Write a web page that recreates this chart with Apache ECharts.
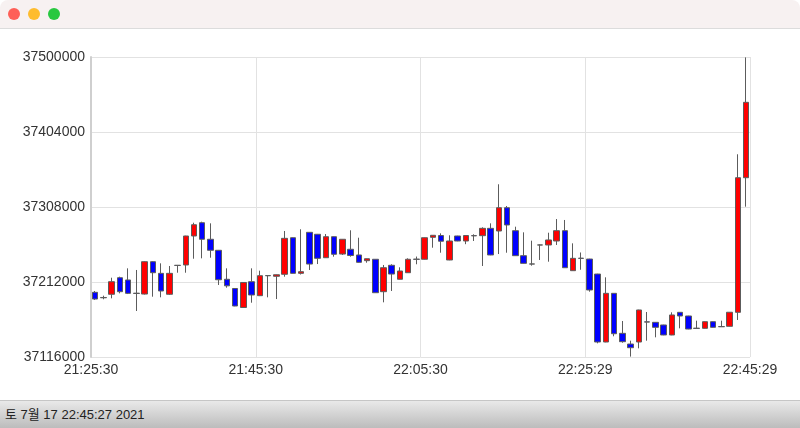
<!DOCTYPE html>
<html>
<head>
<meta charset="utf-8">
<script src="https://cdn.jsdelivr.net/npm/echarts@6/dist/echarts.min.js"></script>
<style>
  html, body { margin: 0; padding: 0; background: #fff; }
  #win { position: relative; width: 800px; height: 428px; overflow: hidden; background: #fff; }
  #titlebar { position: absolute; left: 0; top: 0; width: 800px; height: 28px; background: #f7f1f1;
    border-bottom: 1px solid #dcdcdc; border-radius: 8px 8px 0 0; z-index: 2; }
  .dot { position: absolute; top: 8px; width: 12px; height: 12px; border-radius: 50%; }
  #statusbar { position: absolute; left: 0; top: 400px; width: 800px; height: 28px; z-index: 2;
    background: linear-gradient(#e9e9e9, #bcbcbc); border-top: 1px solid #c6c6c6; box-sizing: border-box;
    font: 13px "Liberation Sans", "Noto Sans CJK KR", sans-serif; color: #222; line-height: 27px; padding-left: 5px; }
  #chart { position: absolute; left: 0; top: 0; width: 800px; height: 428px; z-index: 1; }
</style>
</head>
<body>
<div id="win">
  <div id="titlebar">
    <div class="dot" style="left:8px;background:#fe5f57;"></div>
    <div class="dot" style="left:28px;background:#febc2e;"></div>
    <div class="dot" style="left:48px;background:#28c840;"></div>
  </div>
  <div id="chart"></div>
  <div id="statusbar">토 7월 17 22:45:27 2021</div>
</div>
<script>
// x 축 범위 (시각)
var startTime = '21:25:30';
var endTime = '22:45:29';
// y 축 눈금
var yTicks = [37116000, 37212000, 37308000, 37404000, 37500000];

// 1분봉 시각
var minutes = [
  '21:26','21:27','21:28','21:29','21:30','21:31','21:32','21:33','21:34','21:35',
  '21:36','21:37','21:38','21:39','21:40','21:41','21:42','21:43','21:44','21:45',
  '21:46','21:47','21:48','21:49','21:50','21:51','21:52','21:53','21:54','21:55',
  '21:56','21:57','21:58','21:59','22:00','22:01','22:02','22:03','22:04','22:05',
  '22:06','22:07','22:08','22:09','22:10','22:11','22:12','22:13','22:14','22:15',
  '22:16','22:17','22:18','22:19','22:20','22:21','22:22','22:23','22:24','22:25',
  '22:26','22:27','22:28','22:29','22:30','22:31','22:32','22:33','22:34','22:35',
  '22:36','22:37','22:38','22:39','22:40','22:41','22:42','22:43','22:44','22:45'
];
// 시가
var opens = [
  37198800,37192200,37196300,37217500,37214600,37197700,37196600,37238000,37223100,37196300,
  37233400,37233800,37270900,37287900,37266700,37252600,37215500,37203700,37179400,37212400,
  37194500,37220300,37219300,37221900,37268700,37223100,37275600,37273100,37243100,37270000,
  37247800,37253900,37246600,37239300,37241100,37199600,37233400,37215500,37223900,37241300,
  37241100,37269200,37271500,37240200,37270900,37264500,37271400,37271300,37280700,37277300,
  37307100,37277700,37245700,37235200,37259500,37259400,37264500,37277700,37226500,37242500,
  37241400,37222200,37135200,37197500,37146300,37132600,37135200,37161000,37160400,37157000,
  37144200,37173200,37168500,37152900,37152700,37161200,37155000,37155300,37173200,37345500
];
// 종가
var closes = [
  37190200,37191800,37212400,37199600,37197500,37197300,37238000,37223900,37200500,37223100,
  37233200,37270900,37285300,37266700,37252600,37214900,37207100,37181300,37211400,37195400,
  37220100,37220000,37221300,37267900,37223100,37225200,37235000,37242300,37270000,37247500,
  37266700,37245900,37237200,37241800,37198300,37230300,37222200,37226100,37241100,37241000,
  37268700,37271800,37264200,37264500,37264500,37271500,37271100,37280700,37246600,37307100,
  37285000,37245700,37235900,37234900,37259300,37265800,37277700,37230300,37242300,37242200,
  37201800,37135200,37197500,37145800,37135600,37127900,37176200,37160700,37154000,37144200,
  37169800,37168500,37151800,37152600,37161200,37154000,37154700,37173300,37345500,37442000
];
// 저가
var lows = [
  37189000,37189900,37191100,37197500,37196600,37174900,37196000,37193200,37192400,37195400,
  37223900,37223900,37241800,37242300,37243100,37208200,37204700,37181000,37179000,37185500,
  37194000,37192400,37190200,37218800,37222800,37221600,37227400,37235000,37242800,37244400,
  37246600,37244400,37236800,37236700,37198000,37186000,37200500,37215200,37223600,37234700,
  37240800,37255900,37249500,37239900,37264200,37260400,37264500,37232500,37246300,37247800,
  37249500,37245400,37235600,37232900,37240200,37238000,37259400,37230000,37226200,37227700,
  37199600,37133500,37134900,37142500,37134300,37116500,37127100,37136900,37141200,37143900,
  37143900,37152700,37151500,37152300,37152400,37153700,37154400,37155000,37163400,37308400
];
// 고가
var highs = [
  37200500,37194500,37217500,37218800,37229500,37227400,37238500,37238500,37235900,37232500,
  37233800,37271200,37287900,37289200,37287100,37253000,37229500,37204000,37211800,37229500,
  37226500,37220600,37221600,37277300,37269000,37279500,37276000,37273500,37273400,37270300,
  37267000,37278200,37268700,37242000,37241400,37233800,37234700,37230800,37242300,37244600,
  37269000,37272100,37274300,37271800,37271200,37271800,37273100,37282000,37287100,37337100,
  37309300,37282800,37275600,37264900,37260200,37275100,37292600,37291400,37261500,37249800,
  37241700,37222500,37218000,37197800,37162100,37136900,37176500,37173600,37160700,37157300,
  37173200,37173500,37168800,37162500,37161500,37161500,37162500,37173600,37375500,37499500
];

function toSec(t) {
  var p = t.split(':');
  return (+p[0]) * 3600 + (+p[1]) * 60 + (+(p[2] || 0));
}
function pad(n) { return (n < 10 ? '0' : '') + n; }

var t0 = toSec(startTime);
var span = toSec(endTime) - t0;

var data = [];
for (var i = 0; i < minutes.length; i++) {
  data.push([toSec(minutes[i]) - t0, opens[i], closes[i], lows[i], highs[i]]);
}

var myChart = echarts.init(document.getElementById('chart'));

var option = {
  animation: false,
  grid: { left: 91, right: 50, top: 57, bottom: 71 },
  xAxis: {
    type: 'value',
    min: 0,
    max: span,
    interval: span / 4,
    axisLine: { show: false },
    axisTick: { show: false },
    splitLine: { show: true, lineStyle: { color: '#e2e2e2', width: 1 } },
    axisLabel: {
      margin: 6,
      color: '#333',
      fontSize: 14,
      fontFamily: 'Liberation Sans',
      showMinLabel: true,
      showMaxLabel: true,
      formatter: function (v) {
        var s = Math.round(t0 + v);
        return pad(Math.floor(s / 3600)) + ':' + pad(Math.floor(s / 60) % 60) + ':' + pad(s % 60);
      }
    }
  },
  yAxis: {
    type: 'value',
    min: yTicks[0],
    max: yTicks[yTicks.length - 1],
    interval: yTicks[1] - yTicks[0],
    axisLine: { show: true, lineStyle: { color: '#cfcfcf', width: 2 } },
    axisTick: { show: false },
    splitLine: { show: true, lineStyle: { color: '#e2e2e2', width: 1 } },
    axisLabel: {
      margin: 6,
      color: '#333',
      fontSize: 14,
      fontFamily: 'Liberation Sans',
      formatter: function (v) { return String(v); }
    }
  },
  series: [
    {
      type: 'candlestick',
      barWidth: 6,
      encode: { x: 0, y: [1, 2, 3, 4] },
      itemStyle: {
        color: '#ff0000',
        color0: '#0000ff',
        borderColor: '#5c5c5c',
        borderColor0: '#5c5c5c',
        borderColorDoji: '#5c5c5c',
        borderWidth: 1
      },
      data: data
    }
  ]
};

myChart.setOption(option);
</script>
</body>
</html>
